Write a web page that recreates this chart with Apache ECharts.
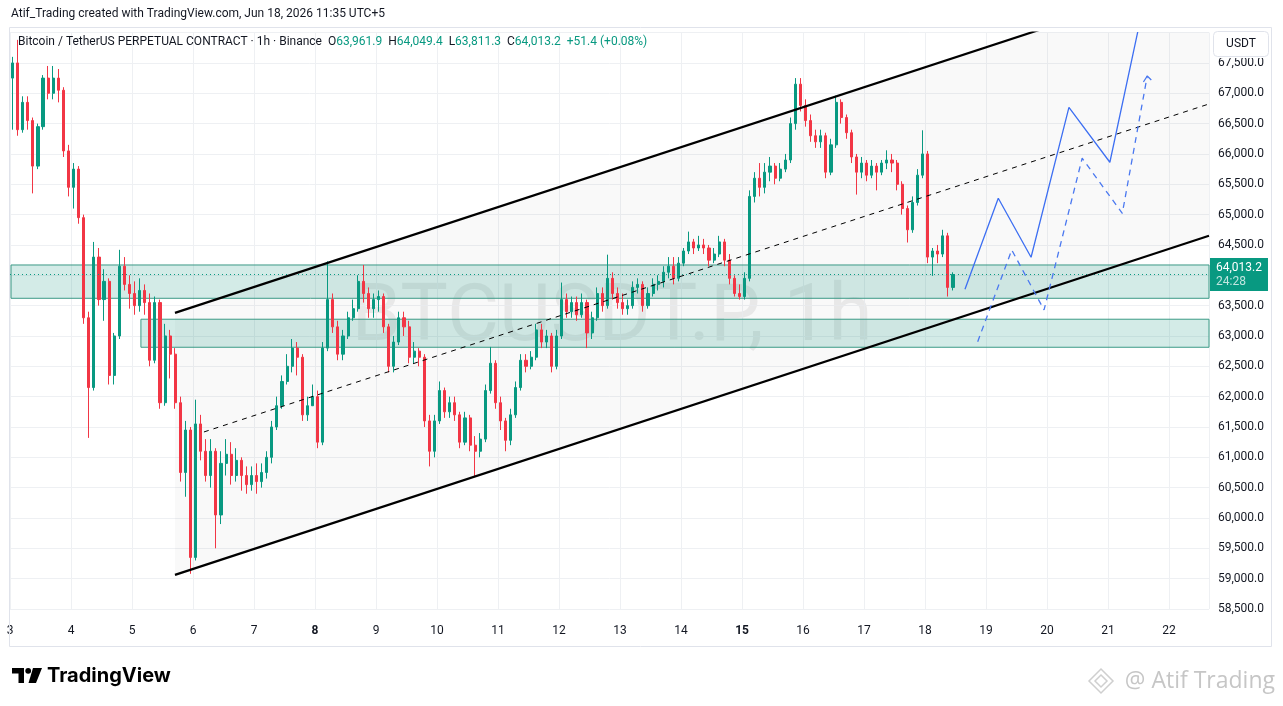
<!DOCTYPE html>
<html>
<head>
<meta charset="utf-8">
<script src="https://cdn.jsdelivr.net/npm/echarts@6/dist/echarts.min.js"></script>
<style>
  html, body { margin: 0; padding: 0; background: #fff; }
  #main { width: 1283px; height: 706px; }
</style>
</head>
<body>
<div id="main"></div>
<script type="text/javascript">
    // 2h candles, Jun 3 00:00 -> Jun 18 12:00 (x = hour since Jun 3 00:00)
    var firstOpen = 67250;
    var closes = [
        67500, 66400, 66850, 66550, 65800, 66450, 67250, 67000, 67250, 67050, 66050, 65450, // 3
        65750, 64950, 63300, 62150, 64300, 63600, 63900, 62350, 63000, 64150, 63850, 63700, // 4
        63500, 63750, 63550, 62600, 63550, 61900, 63000, 62700, 61900, 60750, 61450, 59350, // 5
        61550, 61100, 60700, 61100, 60050, 60900, 61050, 60700, 60950, 60700, 60550, 60700, // 6
        60600, 60750, 61000, 61500, 61850, 62250, 62500, 62800, 62650, 61700, 61850, 62000, // 7
        61250, 62800, 63600, 63150, 62700, 63000, 63300, 63450, 63900, 63700, 63450, 63600, // 8
        63650, 63150, 62500, 62900, 63300, 63150, 62650, 62750, 62650, 61600, 61100, 61600, // 9
        62100, 61750, 61900, 61700, 61250, 61650, 61200, 61100, 61300, 62100, 62550, 61900, // 10
        61600, 61280, 61700, 62150, 62600, 62500, 62650, 63100, 62900, 63000, 62500, 63000, // 11
        63600, 63400, 63550, 63350, 63550, 63050, 63300, 63700, 63500, 63950, 63700, 63550, // 12
        63450, 63500, 63800, 63850, 63500, 63700, 63850, 63900, 64050, 64150, 63950, 64200, // 13
        64400, 64550, 64450, 64500, 64450, 64250, 64350, 64550, 64250, 63950, 63700, 63650, // 14
        63950, 65300, 65600, 65450, 65700, 65800, 65600, 65750, 65900, 66500, 67150, 66800, // 15
        66550, 66300, 66200, 66300, 65700, 66150, 66850, 66600, 66350, 65950, 65700, 65850, // 16
        65650, 65800, 65700, 65850, 65900, 65850, 65500, 65100, 64750, 65200, 65650, 66000, // 17
        64300, 64400, 64350, 64650, 63800, 64013.2                                          // 18
    ];
    var highs = [
        67600, 67880, 66950, 66950, 66600, 66500, 67300, 67450, 67450, 67400, 67100, 66150,
        65850, 65800, 65000, 63400, 64550, 64450, 64100, 63950, 63050, 64420, 64300, 64000,
        63900, 63950, 63850, 63700, 63650, 63600, 63200, 63100, 62800, 62000, 61600, 61500,
        61950, 61700, 61300, 61300, 61150, 61100, 61300, 61250, 61150, 61000, 60850, 60850,
        60900, 60900, 61100, 61600, 62000, 62350, 62700, 62950, 62900, 62700, 62000, 62200,
        62100, 62900, 64230, 63700, 63250, 63100, 63400, 63600, 64000, 64170, 63800, 63700,
        63750, 63700, 63200, 63000, 63400, 63400, 63250, 62900, 62800, 62700, 61700, 61700,
        62250, 62150, 62000, 62000, 61750, 61750, 61700, 61350, 61400, 62200, 62820, 62600,
        62000, 61650, 61800, 62250, 62700, 62700, 62750, 63200, 63200, 63100, 63050, 63100,
        63880, 63700, 63650, 63650, 63700, 63600, 63400, 63800, 63800, 64340, 64050, 63800,
        63700, 63600, 63900, 63950, 63900, 63800, 63950, 64000, 64150, 64300, 64300, 64300,
        64450, 64720, 64600, 64650, 64600, 64500, 64450, 64650, 64600, 64350, 64000, 63850,
        64050, 65400, 65700, 65850, 65850, 65950, 65850, 65850, 66000, 66600, 67250, 67250,
        66900, 66650, 66400, 66400, 66350, 66250, 66960, 66900, 66650, 66400, 66000, 65950,
        65900, 65900, 65850, 65900, 66060, 66000, 65900, 65550, 65150, 65300, 65750, 66390,
        66050, 64450, 64500, 64750, 64700, 64049.4
    ];
    var lows = [
        66400, 66300, 66350, 66400, 65350, 65750, 66400, 66900, 66900, 66850, 65950, 65300,
        65100, 64850, 63200, 61320, 62100, 63500, 63250, 62200, 62200, 62950, 63750, 63450,
        63350, 63400, 63350, 62500, 62550, 61800, 61850, 62300, 61800, 60600, 60350, 59080,
        59300, 60950, 60600, 60500, 59500, 59900, 60700, 60550, 60600, 60450, 60400, 60450,
        60400, 60500, 60650, 60900, 61450, 61800, 62200, 62400, 62350, 61600, 61600, 61850,
        61150, 61200, 62750, 63050, 62600, 62600, 62950, 63250, 63400, 63550, 63300, 63300,
        63400, 63050, 62400, 62400, 62850, 63000, 62550, 62550, 62500, 61500, 60850, 61000,
        61550, 61650, 61650, 61600, 61150, 61200, 61100, 60680, 61000, 61250, 62050, 61800,
        61450, 61100, 61200, 61650, 62100, 62400, 62450, 62600, 62800, 62800, 62400, 62450,
        62950, 63300, 63300, 63250, 63300, 62800, 62950, 63250, 63400, 63450, 63600, 63450,
        63350, 63350, 63450, 63700, 63400, 63450, 63650, 63750, 63800, 63950, 63850, 63900,
        64150, 64350, 64350, 64400, 64350, 64150, 64200, 64300, 64150, 63850, 63650, 63600,
        63600, 63900, 65200, 65300, 65350, 65550, 65500, 65550, 65700, 65850, 66400, 66700,
        66450, 66200, 66100, 66100, 65600, 65650, 66100, 66500, 66250, 65850, 65330, 65600,
        65550, 65600, 65400, 65650, 65750, 65700, 65400, 65000, 64540, 64700, 65150, 65600,
        64200, 63990, 64200, 64300, 63650, 63750
    ];

    // drawings, [hour, price]
    var channelTop = [[64.9, 63380], [471.7, 68961]];
    var channelBottom = [[64.9, 59062], [471.7, 64653]];
    var channelMid = [[76.3, 61418], [471.7, 66824]];
    var zoneUpper = [[0.4, 64170], [471.7, 63621]];
    var zoneLower = [[51.5, 63276], [471.7, 62814]];
    var pathSolid = [[375.7, 63770], [388.8, 65270], [401.7, 64297], [416.6, 66769], [432.7, 65863], [446, 68470]];
    var pathDashed = [[380.7, 62906], [394.1, 64418], [406.8, 63429], [421.8, 65929], [437.6, 65022], [447.4, 67285]];
    var arrowHead = [[445.9, 67186], [447.4, 67285], [449.0, 67219]];

    var lastPrice = 64013.2;
    var dayLabels = [3, 4, 5, 6, 7, 8, 9, 10, 11, 12, 13, 14, 15, 16, 17, 18, 19, 20, 21, 22];
    var boldDays = [8, 15];

    var UP = '#089981', DOWN = '#f23645', TXT = '#131722';

    var candleData = [];
    var prev = firstOpen;
    for (var i = 0; i < closes.length; i++) {
        var o = prev, c = closes[i];
        candleData.push([2 * i + 1, o, c, Math.min(lows[i], o, c), Math.max(highs[i], o, c)]);
        prev = c;
    }

    var fmtPrice = function (v) {
        return v.toLocaleString('en-US', { minimumFractionDigits: 1, maximumFractionDigits: 1 });
    };

    var myChart = echarts.init(document.getElementById('main'));

    var option = {
        animation: false,
        backgroundColor: '#ffffff',
        textStyle: { fontFamily: 'Roboto' },
        grid: { left: 10, right: 74, top: 32.6, bottom: 97 },
        xAxis: {
            type: 'value',
            min: 0,
            max: 471.7,
            interval: 24,
            axisLine: { show: false },
            axisTick: { show: false },
            splitLine: { lineStyle: { color: '#eef0f3', width: 1 } },
            axisLabel: {
                margin: 16,
                color: TXT,
                fontSize: 12,
                formatter: function (v) {
                    if (v % 24 !== 0) return '';
                    var d = dayLabels[v / 24];
                    if (d === undefined) return '';
                    return boldDays.indexOf(d) >= 0 ? '{b|' + d + '}' : String(d);
                },
                rich: { b: { fontWeight: 'bold', fontSize: 12, color: TXT } }
            }
        },
        yAxis: {
            type: 'value',
            position: 'right',
            min: 58500,
            max: 68000,
            interval: 500,
            axisLine: { show: false },
            axisTick: { show: false },
            splitLine: { lineStyle: { color: '#eef0f3', width: 1 } },
            axisLabel: {
                margin: 9,
                color: TXT,
                fontSize: 12,
                formatter: function (v) { return v >= 68000 ? '' : fmtPrice(v); }
            }
        },
        series: [
            {
                // channel fill
                type: 'custom',
                clip: true,
                silent: true,
                z: 0,
                data: [channelTop[0]],
                renderItem: function (params, api) {
                    var pts = [channelTop[0], channelTop[1], channelBottom[1], channelBottom[0]].map(function (p) {
                        return api.coord(p);
                    });
                    return { type: 'polygon', shape: { points: pts }, style: { fill: 'rgba(0,0,0,0.025)' } };
                }
            },
            {
                // zones
                type: 'line',
                data: [],
                z: 1,
                markArea: {
                    silent: true,
                    itemStyle: { color: 'rgba(20,150,125,0.19)', borderColor: '#3b9a86', borderWidth: 1 },
                    data: [
                        [{ xAxis: zoneUpper[0][0], yAxis: zoneUpper[0][1] }, { xAxis: zoneUpper[1][0], yAxis: zoneUpper[1][1] }],
                        [{ xAxis: zoneLower[0][0], yAxis: zoneLower[0][1] }, { xAxis: zoneLower[1][0], yAxis: zoneLower[1][1] }]
                    ]
                }
            },
            {
                type: 'candlestick',
                z: 3,
                barWidth: 2.6,
                data: candleData,
                itemStyle: {
                    color: UP, color0: DOWN,
                    borderColor: UP, borderColor0: DOWN,
                    borderWidth: 1
                },
                markLine: {
                    silent: true,
                    symbol: ['none', 'none'],
                    lineStyle: { type: [1, 3], color: UP, width: 1 },
                    label: {
                        position: 'end',
                        distance: 1,
                        formatter: function () { return '{a|' + fmtPrice(lastPrice) + '}\n{t|24:28}'; },
                        backgroundColor: UP,
                        padding: [3, 6, 2, 6],
                        rich: {
                            a: { color: '#fff', fontSize: 12, lineHeight: 14 },
                            t: { color: 'rgba(255,255,255,0.75)', fontSize: 12, lineHeight: 14 }
                        }
                    },
                    data: [{ yAxis: lastPrice }]
                }
            },
            {
                type: 'line', data: channelTop, symbol: 'none', z: 5, silent: true,
                lineStyle: { color: '#000', width: 2.2 }
            },
            {
                type: 'line', data: channelBottom, symbol: 'none', z: 5, silent: true,
                lineStyle: { color: '#000', width: 2.2 }
            },
            {
                type: 'line', data: channelMid, symbol: 'none', z: 5, silent: true,
                lineStyle: { color: '#000', width: 1, type: [5, 5] }
            },
            {
                type: 'line', data: pathSolid, symbol: 'none', z: 5, silent: true,
                lineStyle: { color: '#3d6ff2', width: 1.3 }
            },
            {
                type: 'line', data: pathDashed, symbol: 'none', z: 5, silent: true,
                lineStyle: { color: '#4a78f0', width: 1.3, type: [6, 5] }
            },
            {
                type: 'line', data: arrowHead, symbol: 'none', z: 5, silent: true,
                lineStyle: { color: '#4a78f0', width: 1.3 }
            }
        ],
        graphic: [
            {
                type: 'text', z: -10, silent: true,
                style: {
                    text: 'BTCUSDT.P, 1h', x: 612, y: 320, align: 'center', verticalAlign: 'middle',
                    font: '80px Roboto', fill: 'rgba(0,0,0,0.065)'
                }
            },
            {
                type: 'rect', z: 50, silent: true,
                shape: { x: 9.5, y: 27.5, width: 1262, height: 619 },
                style: { fill: 'none', stroke: '#e0e3eb', lineWidth: 1 }
            },
            {
                type: 'rect', z: 60, silent: true,
                shape: { x: 1210, y: 28, width: 61, height: 30 },
                style: { fill: '#fff' }
            },
            {
                type: 'rect', z: 61, silent: true,
                shape: { x: 1213.5, y: 31.5, width: 55, height: 25, r: 4 },
                style: { fill: '#fff', stroke: '#e0e3eb', lineWidth: 1 }
            },
            {
                type: 'text', z: 62, silent: true,
                style: { text: 'USDT', x: 1241, y: 44, align: 'center', verticalAlign: 'middle', font: '12px Roboto', fill: TXT }
            },
            {
                type: 'text', z: 100, silent: true,
                style: {
                    text: 'Atif_Trading created with TradingView.com, Jun 18, 2026 11:35 UTC+5',
                    x: 11, y: 14, verticalAlign: 'middle', font: '12px Roboto', fill: TXT
                }
            },
            {
                type: 'text', z: 100, silent: true,
                style: {
                    x: 18, y: 42, verticalAlign: 'middle',
                    text: '{n|Bitcoin / TetherUS PERPETUAL CONTRACT · 1h · Binance}  {k|O}{v|63,961.9}  {k|H}{v|64,049.4}  {k|L}{v|63,811.3}  {k|C}{v|64,013.2}  {v|+51.4 (+0.08%)}',
                    rich: {
                        n: { fontSize: 12, fontFamily: 'Roboto', fill: TXT },
                        k: { fontSize: 12, fontFamily: 'Roboto', fill: TXT },
                        v: { fontSize: 12, fontFamily: 'Roboto', fill: UP }
                    },
                    font: '12px Roboto', fill: TXT
                }
            },
            // TradingView logo
            {
                type: 'group', z: 100, silent: true,
                children: [
                    { type: 'rect', shape: { x: 12, y: 668, width: 12, height: 5.5 }, style: { fill: '#000' } },
                    { type: 'rect', shape: { x: 18.5, y: 668, width: 5.5, height: 15 }, style: { fill: '#000' } },
                    { type: 'circle', shape: { cx: 28.2, cy: 670.8, r: 2.9 }, style: { fill: '#000' } },
                    { type: 'polygon', shape: { points: [[33, 668], [42, 668], [36, 683], [28.5, 683]] }, style: { fill: '#000' } }
                ]
            },
            {
                type: 'text', z: 100, silent: true,
                style: { text: 'TradingView', x: 47, y: 676, verticalAlign: 'middle', font: 'bold 20px Inter', fill: '#000' }
            },
            // author watermark
            {
                type: 'group', z: 100, silent: true,
                children: [
                    { type: 'polygon', shape: { points: [[1101, 669], [1113, 681], [1101, 693], [1089, 681]] }, style: { fill: 'none', stroke: '#cfcfcf', lineWidth: 1.5 } },
                    { type: 'polygon', shape: { points: [[1101, 675], [1107, 681], [1101, 687], [1095, 681]] }, style: { fill: 'none', stroke: '#cfcfcf', lineWidth: 1.5 } }
                ]
            },
            {
                type: 'text', z: 100, silent: true,
                style: { text: '@ Atif Trading', x: 1275, y: 681, align: 'right', verticalAlign: 'middle', font: '23px "Open Sans"', fill: '#c6c6c6' }
            }
        ]
    };
    myChart.setOption(option, true);
</script>
</body>
</html>
